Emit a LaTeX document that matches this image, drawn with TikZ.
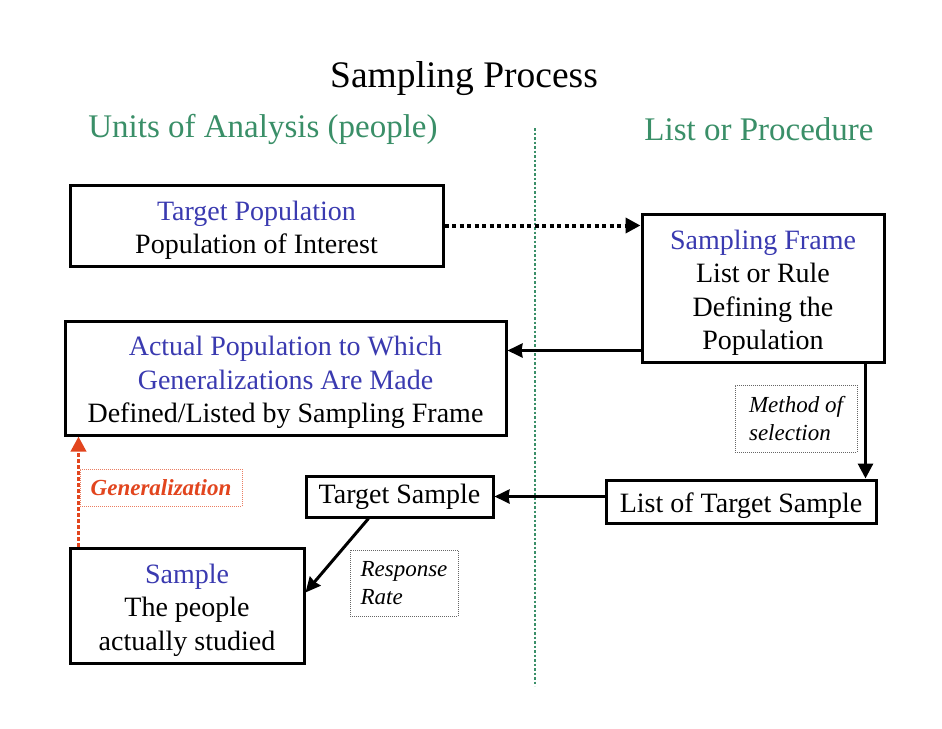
\documentclass[tikz,border=0pt]{standalone}
\usepackage{fontspec}
\setmainfont{Liberation Serif}
\usetikzlibrary{arrows.meta}
\definecolor{hdgreen}{HTML}{3A8F68}
\definecolor{tblue}{HTML}{3A3AB0}
\definecolor{gred}{HTML}{E2451E}
\newcommand\mytopstrut{\rule{0pt}{29pt}}
\tikzset{
  mainbox/.style={draw=black, line width=3pt, align=center, inner sep=0pt,
    font=\fontsize{28}{33.5}\selectfont},
  notebox/.style={draw=black!60, line width=0.6pt, dash pattern=on 1pt off 1pt,
    align=left, inner sep=0pt, font=\fontsize{23}{28}\selectfont\itshape},
  conn/.style={line width=3pt, -{Stealth[length=15pt,width=14pt,inset=1pt]}},
  dotconn/.style={line width=4pt, dash pattern=on 4pt off 3.5pt,
    -{Triangle[length=15pt,width=15pt]}},
}
\begin{document}
\begin{tikzpicture}[x=1pt,y=-1pt]
\useasboundingbox[fill=white] (0,0) rectangle (942,728);
% headings
\node[font=\fontsize{37.5}{40}\selectfont] (title) at (464,79) {Sampling Process};
\node[font=\fontsize{33}{36}\selectfont, text=hdgreen] (h1) at (263,129) {Units of Analysis (people)};
\node[font=\fontsize{33}{36}\selectfont, text=hdgreen] (h2) at (759,129) {List or Procedure};
% divider
\coordinate (dtop) at (535,128);
\coordinate (dbot) at (535,686);
\draw[hdgreen, line width=2.8pt, dash pattern=on 2.5pt off 2pt] (dtop) -- (dbot);
% boxes
\node[mainbox, minimum width=373pt, minimum height=81pt] (tp) at (256.5,225.5)
  {\mytopstrut\textcolor{tblue}{Target Population}\\Population of Interest};
\node[mainbox, minimum width=242pt, minimum height=148pt] (sf) at (763,288)
  {\mytopstrut\textcolor{tblue}{Sampling Frame}\\List or Rule\\Defining the\\Population};
\node[mainbox, minimum width=441pt, minimum height=114pt] (ap) at (285.5,378)
  {\mytopstrut\textcolor{tblue}{Actual Population to Which}\\\textcolor{tblue}{Generalizations Are Made}\\Defined/Listed by Sampling Frame};
\node[mainbox, minimum width=187pt, minimum height=41pt] (ts) at (399.5,496.5)
  {Target Sample};
\node[mainbox, minimum width=270pt, minimum height=43pt] (lts) at (741,501.5)
  {\mytopstrut List of Target Sample};
\node[mainbox, minimum width=234pt, minimum height=115pt] (sm) at (187,605.5)
  {\mytopstrut\textcolor{tblue}{Sample}\\The people\\actually studied};
% note boxes
\node[notebox, minimum width=122pt, minimum height=67pt] (ms) at (796,418.5)
  {Method of\\selection};
\node[notebox, draw=gred!70, minimum width=162pt, minimum height=37pt,
  font=\fontsize{23}{28}\selectfont\bfseries\itshape, text=gred] (gen) at (161,487.5)
  {Generalization};
\node[notebox, minimum width=108pt, minimum height=66pt] (rr) at (404,583)
  {Response\\Rate};
% connectors
\draw[dotconn] (tp.east) -- (tp.east -| sf.west);
\draw[conn] ([yshift=13pt]sf.south west) -- ([yshift=13pt]sf.south west -| ap.east);
\draw[conn, -{Triangle[length=15pt,width=15pt]}] ([xshift=-20pt]sf.south east) -- ([xshift=-20pt]sf.south east |- lts.north);
\draw[conn] (lts.west |- ts.east) -- (ts.east);
\draw[conn] ([xshift=64pt]ts.south west) -- ([yshift=13pt]sm.east);
\draw[dotconn, gred, dash pattern=on 3.5pt off 2.5pt, line width=3.5pt] ([xshift=10pt]sm.north west) -- ([xshift=10pt]sm.north west |- ap.south);
\end{tikzpicture}
\end{document}
